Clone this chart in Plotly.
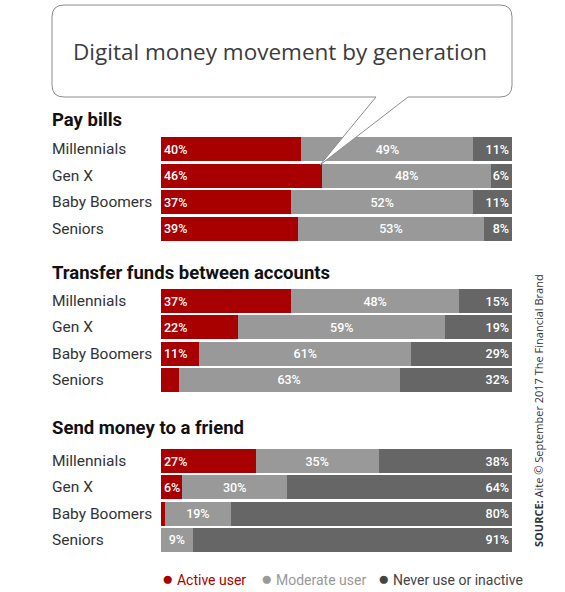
import plotly.graph_objects as go

W, H = 565, 592

generations = ["Millennials", "Gen X", "Baby Boomers", "Seniors"]

pay_active = [40, 46, 37, 39]
pay_moderate = [49, 48, 52, 53]
pay_never = [11, 6, 11, 8]

transfer_active = [37, 22, 11, 5]
transfer_moderate = [48, 59, 61, 63]
transfer_never = [15, 19, 29, 32]

send_active = [27, 6, 1, 0]
send_moderate = [35, 30, 19, 9]
send_never = [38, 64, 80, 91]

series_names = ["Active user", "Moderate user", "Never use or inactive"]
series_colors = ["#a80000", "#999999", "#666666"]
legend_colors = ["#a80000", "#999999", "#444444"]
label_anchor = ["start", "middle", "end"]

sections = [
    ("Pay bills", [pay_active, pay_moderate, pay_never]),
    ("Transfer funds between accounts", [transfer_active, transfer_moderate, transfer_never]),
    ("Send money to a friend", [send_active, send_moderate, send_never]),
]

# pixel positions of each block (top/bottom of bar area, title centre)
blocks = [(136, 242, 120), (288, 393, 273), (448, 553, 428)]
bar_left, bar_right = 161, 512


def px(x):
    return x / W


def py(y):
    return 1 - y / H


fig = go.Figure()
annotations = []

for i, ((title, values), (top, bottom, title_y)) in enumerate(zip(sections, blocks)):
    suffix = "" if i == 0 else str(i + 1)
    totals = [sum(col) for col in zip(*values)]
    for name, vals, color, anchor in zip(series_names, values, series_colors, label_anchor):
        fig.add_trace(go.Bar(
            y=generations,
            x=[v / t * 100 for v, t in zip(vals, totals)],
            orientation="h",
            name=name,
            marker=dict(color=color, line=dict(width=0)),
            text=[f"{v}%" if v >= 6 else "" for v in vals],
            textposition="inside",
            insidetextanchor=anchor,
            textangle=0,
            constraintext="none",
            textfont=dict(family="Roboto", size=12.5, color="white", weight=500),
            xaxis="x" + suffix,
            yaxis="y" + suffix,
            showlegend=False,
            hoverinfo="skip",
        ))
    fig.update_layout(**{
        "xaxis" + suffix: dict(domain=[px(bar_left), px(bar_right)], range=[0, 100],
                               visible=False, fixedrange=True, anchor="y" + suffix),
        "yaxis" + suffix: dict(domain=[py(bottom), py(top)], autorange="reversed",
                               visible=False, fixedrange=True, anchor="x" + suffix),
    })
    annotations.append(dict(
        text=f"<b>{title}</b>", x=px(50), y=py(title_y), xref="paper", yref="paper",
        xanchor="left", yanchor="middle", showarrow=False,
        font=dict(family="Roboto", size=18.5, color="#111111"),
    ))
    for g in generations:
        annotations.append(dict(
            text=g, x=px(50), y=g, xref="paper", yref="y" + suffix,
            xanchor="left", yanchor="middle", showarrow=False,
            font=dict(family="Roboto", size=15.5, color="#333333"),
        ))

# speech bubble with the chart title
x0, x1, y0, y1, r = 52, 512, 5, 97, 12
tail_l, tail_r, tip = 376, 408, (320, 165)
pts = [
    f"M{px(x0 + r)},{py(y0)}",
    f"L{px(x1 - r)},{py(y0)}",
    f"Q{px(x1)},{py(y0)} {px(x1)},{py(y0 + r)}",
    f"L{px(x1)},{py(y1 - r)}",
    f"Q{px(x1)},{py(y1)} {px(x1 - r)},{py(y1)}",
    f"L{px(tail_r)},{py(y1)}",
    f"L{px(tip[0])},{py(tip[1])}",
    f"L{px(tail_l)},{py(y1)}",
    f"L{px(x0 + r)},{py(y1)}",
    f"Q{px(x0)},{py(y1)} {px(x0)},{py(y1 - r)}",
    f"L{px(x0)},{py(y0 + r)}",
    f"Q{px(x0)},{py(y0)} {px(x0 + r)},{py(y0)}",
    "Z",
]
fig.add_shape(type="path", path=" ".join(pts), xref="paper", yref="paper",
              fillcolor="white", line=dict(color="#8c8c8c", width=1), layer="above")

annotations.append(dict(
    text="Digital money movement by generation", x=px(280), y=py(51),
    xref="paper", yref="paper", xanchor="center", yanchor="middle", showarrow=False,
    font=dict(family="Open Sans", size=22.5, color="#3c3c3c"),
))

# legend built from text so each entry keeps its own colour
legend_x = [160, 259, 376]
for name, color, lx in zip(series_names, legend_colors, legend_x):
    annotations.append(dict(
        text=f"<span style='font-size:19px'>●</span> {name}", x=px(lx), y=py(578),
        xref="paper", yref="paper", xanchor="left", yanchor="middle", showarrow=False,
        font=dict(family="Roboto", size=14, color=color),
    ))

annotations.append(dict(
    text="<b>SOURCE:</b> Aite © September 2017 The Financial Brand",
    x=px(538), y=py(411), xref="paper", yref="paper", xanchor="center", yanchor="middle",
    textangle=-90, showarrow=False,
    font=dict(family="Open Sans", size=11, color="#333333"),
))

fig.update_layout(
    width=W, height=H,
    margin=dict(l=0, r=0, t=0, b=0),
    paper_bgcolor="white", plot_bgcolor="white",
    barmode="stack", bargap=0.08,
    showlegend=False,
    annotations=annotations,
)

# drop the default 8px page margin so the figure sits at the window's corner
fig.write_html("out.html", config={"displayModeBar": False},
               post_script="document.body.style.margin = '0';")
